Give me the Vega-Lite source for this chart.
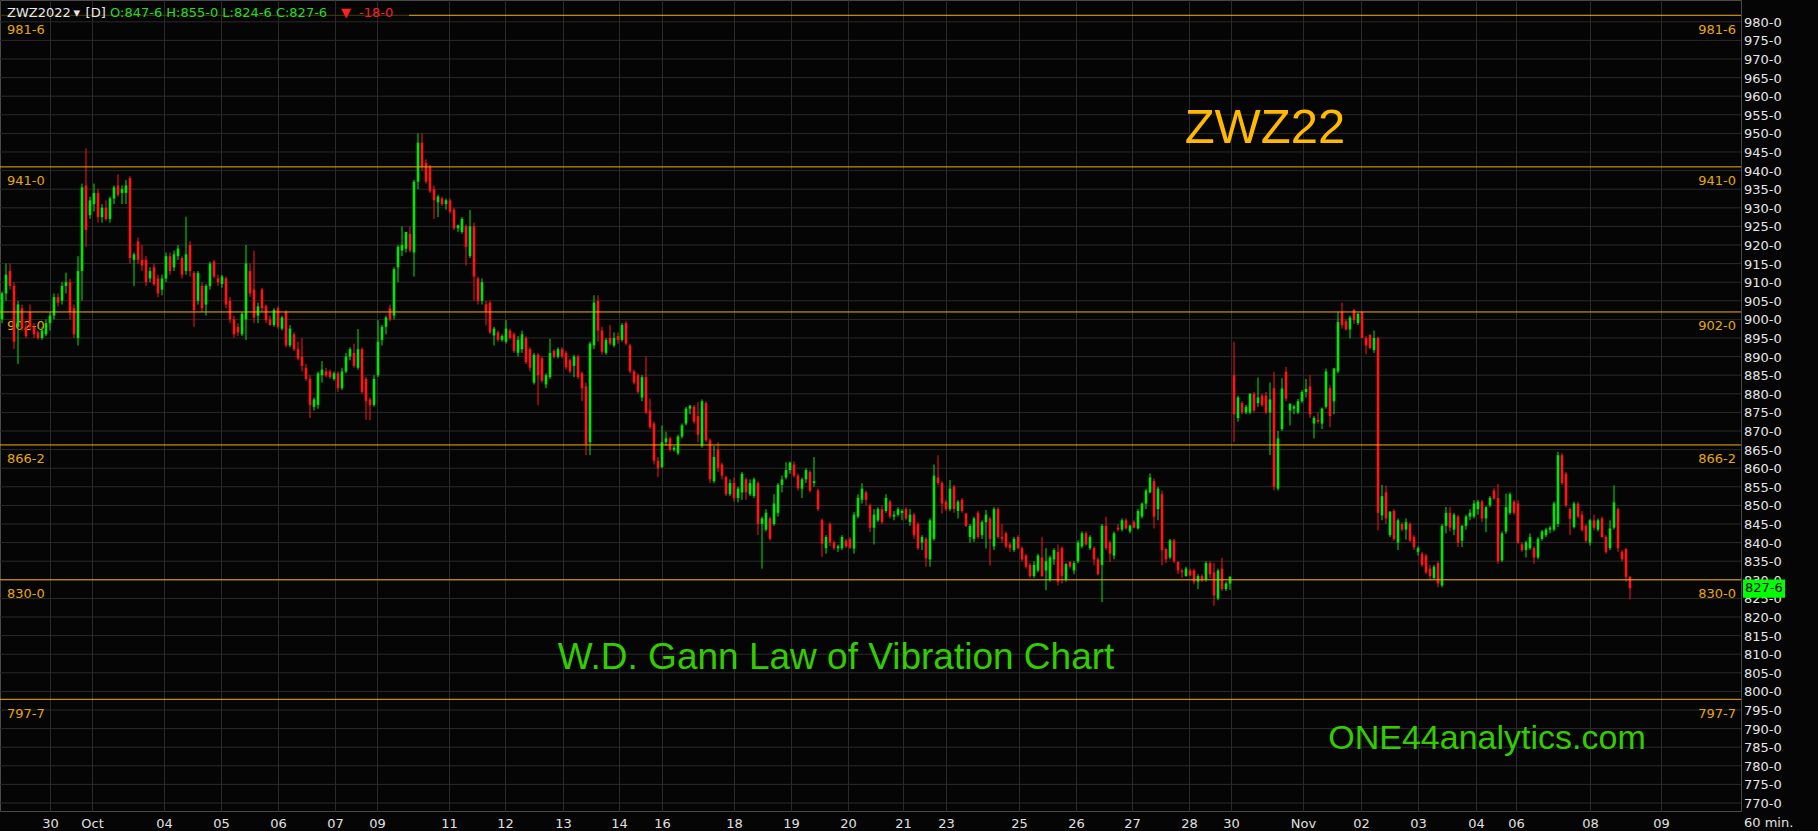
{
"$schema": "https://vega.github.io/schema/vega-lite/v6.json",
"width": 1741, "height": 811,
"autosize": {"type": "none"},
"padding": {"left": 0, "top": 0, "right": 77, "bottom": 20},
"background": "#050505",
"config": {"view": {"stroke": "#4a4a4a"}, "font": "DejaVu Sans"},
"datasets": {
"bars": [
{"i":0,"o":900,"h":907.5,"l":899,"c":907},{"i":1,"o":907,"h":915,"l":905,"c":912},{"i":2,"o":913,"h":915,"l":908,"c":909},{"i":3,"o":909,"h":910,"l":892,"c":894},{"i":4,"o":898,"h":905,"l":888,"c":904},{"i":5,"o":903,"h":904,"l":897,"c":898},{"i":6,"o":898,"h":899,"l":895,"c":895.5},{"i":7,"o":902,"h":904,"l":897,"c":898},{"i":8,"o":898,"h":899,"l":895,"c":896},{"i":9,"o":896.5,"h":897,"l":894.5,"c":895},
{"i":10,"o":895,"h":898,"l":894.5,"c":897},{"i":11,"o":896,"h":900,"l":895.5,"c":899},{"i":12,"o":899,"h":902,"l":897,"c":901},{"i":13,"o":901,"h":907,"l":900,"c":906},{"i":14,"o":906,"h":907,"l":903.5,"c":904.5},{"i":15,"o":905,"h":910,"l":904,"c":909},{"i":16,"o":909,"h":912.6,"l":907,"c":910},{"i":17,"o":910,"h":911,"l":900,"c":902},{"i":18,"o":903,"h":904,"l":895,"c":896},{"i":19,"o":895,"h":917,"l":893,"c":913},
{"i":20,"o":913,"h":936.5,"l":905,"c":935.5},{"i":21,"o":936,"h":946,"l":919.5,"c":924},{"i":22,"o":928,"h":933,"l":927,"c":932},{"i":23,"o":931,"h":936.5,"l":929,"c":934},{"i":24,"o":934,"h":935,"l":926,"c":927.5},{"i":25,"o":927.5,"h":931,"l":926,"c":930},{"i":26,"o":930,"h":932,"l":926.5,"c":927},{"i":27,"o":927,"h":933,"l":926,"c":932.5},{"i":28,"o":932.5,"h":936,"l":931,"c":935.5},{"i":29,"o":936,"h":939,"l":933,"c":933.5},
{"i":30,"o":934,"h":936,"l":931,"c":935},{"i":31,"o":934,"h":937.5,"l":931,"c":936},{"i":32,"o":938,"h":938.5,"l":915,"c":916.5},{"i":33,"o":916,"h":918,"l":909,"c":917.5},{"i":34,"o":921,"h":922,"l":915,"c":916},{"i":35,"o":916,"h":920,"l":913,"c":914.5},{"i":36,"o":916,"h":917,"l":909,"c":910},{"i":37,"o":911,"h":914,"l":910,"c":913},{"i":38,"o":914,"h":915,"l":909,"c":909.5},{"i":39,"o":911,"h":912,"l":906,"c":907},
{"i":40,"o":908,"h":912,"l":906.5,"c":911},{"i":41,"o":911,"h":918,"l":910,"c":917},{"i":42,"o":917,"h":918,"l":912,"c":913},{"i":43,"o":914,"h":918.5,"l":913,"c":917.5},{"i":44,"o":917,"h":920,"l":916,"c":919},{"i":45,"o":916.5,"h":917,"l":911,"c":912},{"i":46,"o":913,"h":927.6,"l":912,"c":917.5},{"i":47,"o":920,"h":921,"l":911.5,"c":913},{"i":48,"o":912.5,"h":913,"l":898,"c":902.5},{"i":49,"o":905,"h":913,"l":904,"c":912.5},
{"i":50,"o":909,"h":910,"l":902,"c":903},{"i":51,"o":904,"h":909.5,"l":901,"c":909},{"i":52,"o":909,"h":915.5,"l":908,"c":915},{"i":53,"o":915.5,"h":916,"l":911,"c":911.5},{"i":54,"o":911,"h":912,"l":909,"c":910},{"i":55,"o":909.5,"h":912,"l":908.5,"c":911.5},{"i":56,"o":911,"h":911.5,"l":903,"c":904},{"i":57,"o":905,"h":906,"l":899,"c":900},{"i":58,"o":900,"h":901,"l":895,"c":896},{"i":59,"o":898,"h":899,"l":895.5,"c":896.5},
{"i":60,"o":896,"h":902,"l":895.5,"c":901.5},{"i":61,"o":900,"h":920,"l":894.5,"c":915},{"i":62,"o":913,"h":915,"l":906,"c":907},{"i":63,"o":908,"h":918.5,"l":899,"c":900.5},{"i":64,"o":901,"h":904.5,"l":899,"c":903.5},{"i":65,"o":908,"h":908.5,"l":902,"c":903},{"i":66,"o":903.5,"h":904,"l":899,"c":899.8},{"i":67,"o":900,"h":901,"l":898.3,"c":898.5},{"i":68,"o":898.5,"h":903,"l":898,"c":902.5},{"i":69,"o":903,"h":903.5,"l":897.5,"c":898},
{"i":70,"o":897.5,"h":901,"l":897,"c":900.5},{"i":71,"o":902,"h":902.5,"l":892.5,"c":893},{"i":72,"o":893,"h":898.5,"l":892.5,"c":897.5},{"i":73,"o":896,"h":896.5,"l":891.5,"c":892},{"i":74,"o":892,"h":894,"l":889,"c":889.5},{"i":75,"o":890,"h":895,"l":886,"c":887.5},{"i":76,"o":887,"h":888,"l":883.5,"c":884},{"i":77,"o":884,"h":885,"l":873.5,"c":877},{"i":78,"o":876.5,"h":879,"l":875.5,"c":878.5},{"i":79,"o":877,"h":886,"l":876,"c":885.5},
{"i":80,"o":885,"h":888.8,"l":883,"c":886.5},{"i":81,"o":886,"h":887,"l":884.5,"c":885},{"i":82,"o":886,"h":886.5,"l":884,"c":884.5},{"i":83,"o":884,"h":886,"l":883.5,"c":885.5},{"i":84,"o":885.5,"h":886,"l":880.5,"c":881.5},{"i":85,"o":881.5,"h":887,"l":881,"c":886},{"i":86,"o":886,"h":891,"l":885.5,"c":890},{"i":87,"o":890,"h":892.5,"l":889,"c":892},{"i":88,"o":891,"h":893.5,"l":887,"c":887.5},{"i":89,"o":887,"h":897.4,"l":886.5,"c":892},
{"i":90,"o":892,"h":892.5,"l":880,"c":880.5},{"i":91,"o":884,"h":884.5,"l":873,"c":878},{"i":92,"o":878.5,"h":879,"l":872.9,"c":877},{"i":93,"o":877,"h":885,"l":876.5,"c":884},{"i":94,"o":885,"h":899.8,"l":884.5,"c":894},{"i":95,"o":894.5,"h":898.5,"l":893,"c":898},{"i":96,"o":898,"h":901,"l":896,"c":900.5},{"i":97,"o":903,"h":904,"l":899.5,"c":900},{"i":98,"o":901,"h":914,"l":900,"c":913.5},{"i":99,"o":914,"h":920,"l":910,"c":919.5},
{"i":100,"o":918.5,"h":925,"l":917,"c":920},{"i":101,"o":919,"h":923.5,"l":918,"c":923.5},{"i":102,"o":923,"h":925,"l":918,"c":918.5},{"i":103,"o":918,"h":937.5,"l":911.5,"c":937},{"i":104,"o":937,"h":950,"l":935,"c":947.5},{"i":105,"o":947.5,"h":950,"l":940,"c":941},{"i":106,"o":942,"h":943,"l":936.5,"c":937},{"i":107,"o":941,"h":941.5,"l":934,"c":934.5},{"i":108,"o":935,"h":936,"l":927,"c":932},{"i":109,"o":931.5,"h":933.5,"l":927.5,"c":933},
{"i":110,"o":932.5,"h":933,"l":930.5,"c":931},{"i":111,"o":931,"h":932.5,"l":929.5,"c":932},{"i":112,"o":932,"h":932.5,"l":928.5,"c":929},{"i":113,"o":929.5,"h":930,"l":924,"c":924.5},{"i":114,"o":924.5,"h":925.5,"l":923.5,"c":925.3},{"i":115,"o":923.5,"h":927.5,"l":923,"c":927},{"i":116,"o":925,"h":925.5,"l":914.5,"c":919.5},{"i":117,"o":917,"h":929.4,"l":916.5,"c":925},{"i":118,"o":925,"h":926,"l":905,"c":911.5},{"i":119,"o":911,"h":911.5,"l":904,"c":905},
{"i":120,"o":905,"h":911,"l":904,"c":910},{"i":121,"o":904,"h":905,"l":898.4,"c":902},{"i":122,"o":904.5,"h":905,"l":896,"c":896.5},{"i":123,"o":895.7,"h":898,"l":893,"c":897.5},{"i":124,"o":896.5,"h":897,"l":894,"c":894.5},{"i":125,"o":894.5,"h":896,"l":894,"c":895.5},{"i":126,"o":894,"h":899.8,"l":893.5,"c":897.5},{"i":127,"o":897,"h":897.5,"l":894.5,"c":895},{"i":128,"o":896,"h":896.5,"l":891,"c":891.5},{"i":129,"o":891,"h":895.5,"l":890,"c":894.5},
{"i":130,"o":892,"h":897,"l":891,"c":896},{"i":131,"o":895,"h":895.5,"l":888,"c":888.5},{"i":132,"o":892,"h":892.5,"l":886,"c":887},{"i":133,"o":883,"h":891,"l":882.5,"c":890.5},{"i":134,"o":890.5,"h":891,"l":876.9,"c":885},{"i":135,"o":889.5,"h":890,"l":883,"c":883.5},{"i":136,"o":882.5,"h":885.5,"l":881.5,"c":885},{"i":137,"o":884.5,"h":894.8,"l":884,"c":891},{"i":138,"o":891.5,"h":892,"l":889.5,"c":890},{"i":139,"o":890,"h":892.5,"l":889.5,"c":892},
{"i":140,"o":892,"h":892.5,"l":889.5,"c":890},{"i":141,"o":891,"h":891.5,"l":886.5,"c":887.2},{"i":142,"o":889,"h":889.5,"l":885.5,"c":886},{"i":143,"o":887.5,"h":890.5,"l":884.5,"c":890},{"i":144,"o":890,"h":890.5,"l":884,"c":884.5},{"i":145,"o":885.5,"h":886,"l":878,"c":881.5},{"i":146,"o":882,"h":883,"l":863.5,"c":866.5},{"i":147,"o":867,"h":894,"l":863.5,"c":893.5},{"i":148,"o":893,"h":906.5,"l":892,"c":904.5},{"i":149,"o":905,"h":906.5,"l":894,"c":897},
{"i":150,"o":897,"h":898,"l":890.5,"c":891.3},{"i":151,"o":891,"h":895,"l":890.5,"c":894.5},{"i":152,"o":895,"h":898.5,"l":893,"c":893.5},{"i":153,"o":893,"h":896.5,"l":892.5,"c":895},{"i":154,"o":895.5,"h":896.5,"l":893.5,"c":894.5},{"i":155,"o":894.5,"h":899,"l":894,"c":898.5},{"i":156,"o":899,"h":899.5,"l":893,"c":893.5},{"i":157,"o":893,"h":893.5,"l":885.5,"c":886},{"i":158,"o":886,"h":886.5,"l":882.5,"c":883},{"i":159,"o":885,"h":885.5,"l":880,"c":880.5},
{"i":160,"o":879,"h":885,"l":878,"c":884.5},{"i":161,"o":884.5,"h":890,"l":874.5,"c":875},{"i":162,"o":875.5,"h":878.7,"l":870.5,"c":871},{"i":163,"o":872,"h":872.5,"l":861,"c":862},{"i":164,"o":862,"h":863,"l":857.6,"c":860},{"i":165,"o":860.3,"h":871.5,"l":860,"c":867},{"i":166,"o":867,"h":869.8,"l":866,"c":868},{"i":167,"o":868,"h":868.5,"l":864.5,"c":865},{"i":168,"o":865,"h":866,"l":864.5,"c":865.5},{"i":169,"o":864,"h":869,"l":863.5,"c":868.5},
{"i":170,"o":868.5,"h":872,"l":868,"c":871.5},{"i":171,"o":872,"h":876.5,"l":871.5,"c":876},{"i":172,"o":876,"h":877,"l":874.5,"c":876.8},{"i":173,"o":876.5,"h":877,"l":872,"c":872.5},{"i":174,"o":874,"h":877.8,"l":867,"c":869},{"i":175,"o":866,"h":878.5,"l":865.5,"c":878},{"i":176,"o":877.5,"h":878,"l":867,"c":867.5},{"i":177,"o":867.5,"h":868,"l":856,"c":857},{"i":178,"o":856.5,"h":866,"l":856,"c":863},{"i":179,"o":865,"h":867,"l":859,"c":860},
{"i":180,"o":861,"h":861.5,"l":857,"c":858},{"i":181,"o":857.6,"h":858,"l":852.5,"c":853},{"i":182,"o":853,"h":857,"l":852.5,"c":856},{"i":183,"o":856,"h":857.5,"l":851,"c":852},{"i":184,"o":852,"h":855,"l":850.8,"c":854.5},{"i":185,"o":853.5,"h":859,"l":851.5,"c":858.5},{"i":186,"o":857,"h":857.5,"l":851.5,"c":853.5},{"i":187,"o":853,"h":857,"l":852.5,"c":856},{"i":188,"o":852.5,"h":857.5,"l":852,"c":857},{"i":189,"o":856,"h":856.5,"l":842,"c":845},
{"i":190,"o":845,"h":847,"l":833,"c":846.5},{"i":191,"o":843.5,"h":849,"l":843,"c":848},{"i":192,"o":846.5,"h":847,"l":840.5,"c":841},{"i":193,"o":845,"h":853,"l":844.5,"c":850.5},{"i":194,"o":848,"h":856,"l":847,"c":855.5},{"i":195,"o":855.5,"h":858,"l":853.5,"c":857},{"i":196,"o":857.5,"h":861.6,"l":857,"c":859.5},{"i":197,"o":859.5,"h":861.8,"l":858.5,"c":861.5},{"i":198,"o":861,"h":861.8,"l":857.5,"c":858},{"i":199,"o":858,"h":858.5,"l":854,"c":854.6},
{"i":200,"o":854.5,"h":857.5,"l":852,"c":857},{"i":201,"o":857,"h":860,"l":856,"c":859.5},{"i":202,"o":859,"h":859.5,"l":853.5,"c":854},{"i":203,"o":856,"h":863,"l":855,"c":856.5},{"i":204,"o":854,"h":854.5,"l":848.5,"c":849},{"i":205,"o":846,"h":846.5,"l":836.2,"c":839.7},{"i":206,"o":838.5,"h":842,"l":837,"c":841.5},{"i":207,"o":845,"h":845.5,"l":839,"c":840},{"i":208,"o":840,"h":840.5,"l":838,"c":838.5},{"i":209,"o":838.5,"h":839.5,"l":837.5,"c":839},
{"i":210,"o":838.5,"h":842,"l":838,"c":841.5},{"i":211,"o":840.5,"h":841,"l":838.5,"c":839},{"i":212,"o":841,"h":841.5,"l":838.3,"c":838.6},{"i":213,"o":838.4,"h":848.2,"l":837,"c":847.5},{"i":214,"o":847,"h":853,"l":846.5,"c":852},{"i":215,"o":851.5,"h":856,"l":850.5,"c":854.5},{"i":216,"o":853.5,"h":854,"l":850,"c":851.5},{"i":217,"o":850,"h":850.5,"l":842.8,"c":844},{"i":218,"o":844,"h":849,"l":839.5,"c":847.5},{"i":219,"o":846,"h":849.5,"l":845.5,"c":849},
{"i":220,"o":849,"h":850,"l":845,"c":845.5},{"i":221,"o":848.5,"h":853,"l":848,"c":852},{"i":222,"o":851,"h":851.5,"l":846.5,"c":847},{"i":223,"o":847,"h":848.5,"l":846,"c":847.5},{"i":224,"o":847.5,"h":849.5,"l":847,"c":849},{"i":225,"o":848,"h":849,"l":846,"c":848.5},{"i":226,"o":849,"h":849.5,"l":846,"c":846.5},{"i":227,"o":845.5,"h":849,"l":844.5,"c":847.5},{"i":228,"o":847.5,"h":848,"l":841,"c":842},{"i":229,"o":845,"h":845.5,"l":838,"c":838.5},
{"i":230,"o":840,"h":842,"l":838,"c":841.5},{"i":231,"o":841,"h":841.5,"l":833.5,"c":835.8},{"i":232,"o":835.5,"h":846.5,"l":833.5,"c":846},{"i":233,"o":841,"h":861,"l":840.5,"c":858},{"i":234,"o":857.5,"h":863.5,"l":855.5,"c":856},{"i":235,"o":856,"h":856.5,"l":847.8,"c":850.5},{"i":236,"o":851,"h":851.5,"l":848.5,"c":849},{"i":237,"o":849,"h":856.8,"l":848.5,"c":854.5},{"i":238,"o":855,"h":855.5,"l":848,"c":849},{"i":239,"o":848.5,"h":851.5,"l":846.5,"c":851},
{"i":240,"o":851.5,"h":852,"l":848,"c":848.5},{"i":241,"o":847.8,"h":848,"l":844.2,"c":844.5},{"i":242,"o":841.5,"h":845,"l":840,"c":844.5},{"i":243,"o":841,"h":847,"l":840.2,"c":846.5},{"i":244,"o":848,"h":848.5,"l":841,"c":841.5},{"i":245,"o":842,"h":846,"l":841,"c":845.5},{"i":246,"o":845.5,"h":848.8,"l":838.4,"c":847.5},{"i":247,"o":846.5,"h":847,"l":833.8,"c":841},{"i":248,"o":839,"h":849.5,"l":838,"c":849},{"i":249,"o":849,"h":849.5,"l":841,"c":841.5},
{"i":250,"o":841.5,"h":845,"l":840,"c":841},{"i":251,"o":842.5,"h":843,"l":838.5,"c":839},{"i":252,"o":839.5,"h":840,"l":837.5,"c":838.5},{"i":253,"o":838,"h":841.5,"l":837.5,"c":841},{"i":254,"o":841.5,"h":842,"l":838.2,"c":838.5},{"i":255,"o":838.5,"h":839,"l":835,"c":835.5},{"i":256,"o":836.5,"h":837,"l":833,"c":833.5},{"i":257,"o":834,"h":834.5,"l":830.5,"c":831},{"i":258,"o":831,"h":835,"l":830.5,"c":834},{"i":259,"o":832.5,"h":837,"l":832,"c":836.5},
{"i":260,"o":836,"h":841.5,"l":830.8,"c":831},{"i":261,"o":832.5,"h":838.5,"l":827.2,"c":835},{"i":262,"o":830,"h":836.5,"l":829.5,"c":836},{"i":263,"o":835.5,"h":838.5,"l":834,"c":838},{"i":264,"o":837.5,"h":839.5,"l":828.5,"c":829.5},{"i":265,"o":838.5,"h":839,"l":829,"c":831},{"i":266,"o":830,"h":834.5,"l":829.5,"c":834.2},{"i":267,"o":834.8,"h":835,"l":833,"c":833.5},{"i":268,"o":832.5,"h":835,"l":831.5,"c":834.5},{"i":269,"o":835,"h":840.6,"l":834.5,"c":840},
{"i":270,"o":839,"h":843,"l":838.5,"c":842.5},{"i":271,"o":842.5,"h":843,"l":839.2,"c":839.5},{"i":272,"o":838.5,"h":842,"l":838,"c":841.5},{"i":273,"o":838.5,"h":839,"l":833.9,"c":835.5},{"i":274,"o":835.5,"h":836,"l":831.2,"c":831.5},{"i":275,"o":834,"h":845,"l":824,"c":844.5},{"i":276,"o":844.5,"h":847,"l":838,"c":838.5},{"i":277,"o":840,"h":840.5,"l":834.8,"c":837},{"i":278,"o":836.5,"h":843,"l":835.5,"c":842.5},{"i":279,"o":844,"h":845,"l":843,"c":843.5},
{"i":280,"o":843.5,"h":846.5,"l":843,"c":846},{"i":281,"o":846,"h":846.5,"l":843.5,"c":843.8},{"i":282,"o":843,"h":844.8,"l":842.5,"c":844.6},{"i":283,"o":845.5,"h":846,"l":843.8,"c":844},{"i":284,"o":843.8,"h":849,"l":843.5,"c":848.5},{"i":285,"o":847,"h":850.8,"l":846.5,"c":850.5},{"i":286,"o":850.5,"h":854.5,"l":849,"c":854},{"i":287,"o":853.5,"h":858.6,"l":853.2,"c":857.5},{"i":288,"o":856.5,"h":857.2,"l":843.8,"c":847},{"i":289,"o":849,"h":855,"l":846,"c":854.5},
{"i":290,"o":853,"h":854,"l":833.9,"c":838},{"i":291,"o":838.3,"h":838.5,"l":834.5,"c":835.5},{"i":292,"o":836,"h":841,"l":835.5,"c":840.6},{"i":293,"o":840.6,"h":841,"l":834.5,"c":835},{"i":294,"o":834.8,"h":835,"l":831.5,"c":832.5},{"i":295,"o":832.5,"h":833,"l":830.5,"c":832},{"i":296,"o":831,"h":833.5,"l":830.8,"c":833},{"i":297,"o":832.5,"h":833,"l":831,"c":831.2},{"i":298,"o":832.5,"h":833,"l":828.8,"c":829.5},{"i":299,"o":829.5,"h":831.5,"l":827.5,"c":831},
{"i":300,"o":831,"h":831.5,"l":829.5,"c":829.8},{"i":301,"o":830,"h":835,"l":829.5,"c":834.5},{"i":302,"o":834.5,"h":835,"l":830.5,"c":831.5},{"i":303,"o":832,"h":834.5,"l":823,"c":825.8},{"i":304,"o":825,"h":833,"l":824.5,"c":832.5},{"i":305,"o":833,"h":835.9,"l":827,"c":827.5},{"i":306,"o":827.5,"h":829.5,"l":827,"c":829},{"i":307,"o":829,"h":831,"l":827.3,"c":830.8},{"i":308,"o":885,"h":894,"l":867,"c":874.5},{"i":309,"o":873.5,"h":879.5,"l":872.5,"c":879},
{"i":310,"o":877.5,"h":878,"l":874.5,"c":875},{"i":311,"o":875,"h":877,"l":874.5,"c":876.5},{"i":312,"o":875,"h":880.2,"l":874.5,"c":880},{"i":313,"o":880,"h":880.5,"l":875,"c":875.5},{"i":314,"o":877.5,"h":884.4,"l":876.5,"c":879},{"i":315,"o":879.5,"h":880,"l":876.5,"c":877},{"i":316,"o":879.5,"h":880.5,"l":874.5,"c":875},{"i":317,"o":875,"h":883,"l":863.5,"c":878.5},{"i":318,"o":881.5,"h":885.9,"l":854,"c":855},{"i":319,"o":854.5,"h":870,"l":854,"c":868},
{"i":320,"o":870.5,"h":884.2,"l":870,"c":881.4},{"i":321,"o":885.9,"h":887.2,"l":878,"c":878.7},{"i":322,"o":875.5,"h":877.5,"l":871.5,"c":877.3},{"i":323,"o":876,"h":877,"l":874.5,"c":876.6},{"i":324,"o":875,"h":878.6,"l":874.5,"c":878},{"i":325,"o":878,"h":881,"l":877.5,"c":880.5},{"i":326,"o":880.5,"h":884,"l":879,"c":881.3},{"i":327,"o":882,"h":885,"l":873.5,"c":874.5},{"i":328,"o":872,"h":874,"l":868,"c":873.5},{"i":329,"o":873,"h":875,"l":872,"c":872.5},
{"i":330,"o":872,"h":876.3,"l":870.5,"c":876},{"i":331,"o":876.5,"h":886.8,"l":876,"c":886},{"i":332,"o":881.5,"h":882.3,"l":871,"c":874},{"i":333,"o":878,"h":887,"l":874.5,"c":886.8},{"i":334,"o":886,"h":902,"l":885.5,"c":899.3},{"i":335,"o":902,"h":904.5,"l":897.5,"c":898.5},{"i":336,"o":899.5,"h":900,"l":897,"c":897.3},{"i":337,"o":897.3,"h":901,"l":894.9,"c":900.5},{"i":338,"o":902.5,"h":902.8,"l":898.8,"c":899.8},{"i":339,"o":899,"h":901.8,"l":898.5,"c":901.5},
{"i":340,"o":902,"h":902.2,"l":894.9,"c":895},{"i":341,"o":895,"h":895.5,"l":890.6,"c":893},{"i":342,"o":895.8,"h":896,"l":892,"c":892.3},{"i":343,"o":891.8,"h":897,"l":891,"c":895},{"i":344,"o":895,"h":895.3,"l":843.3,"c":848},{"i":345,"o":847.3,"h":855.5,"l":846,"c":852.5},{"i":346,"o":853.5,"h":855.3,"l":845,"c":846.5},{"i":347,"o":842,"h":848.5,"l":841.5,"c":848.3},{"i":348,"o":848.5,"h":849,"l":840.5,"c":841},{"i":349,"o":840,"h":846.5,"l":838,"c":846},
{"i":350,"o":845,"h":845.5,"l":843,"c":843.5},{"i":351,"o":843.5,"h":846.5,"l":840.8,"c":845.5},{"i":352,"o":845,"h":845.5,"l":840.2,"c":840.5},{"i":353,"o":841.5,"h":842,"l":838,"c":838.8},{"i":354,"o":837.5,"h":839,"l":836.5,"c":838.5},{"i":355,"o":837,"h":837.5,"l":833.5,"c":834},{"i":356,"o":836.5,"h":837,"l":831.5,"c":832},{"i":357,"o":833,"h":834,"l":829.8,"c":831},{"i":358,"o":830.5,"h":834,"l":830,"c":833.5},{"i":359,"o":834.5,"h":835,"l":828,"c":829},
{"i":360,"o":828.5,"h":845,"l":828,"c":844.5},{"i":361,"o":844.5,"h":849.6,"l":842.5,"c":848},{"i":362,"o":848,"h":849.6,"l":843,"c":844},{"i":363,"o":843.5,"h":848,"l":842,"c":847.5},{"i":364,"o":847,"h":847.5,"l":838.8,"c":840},{"i":365,"o":840.5,"h":844.7,"l":838.8,"c":844.5},{"i":366,"o":844.5,"h":847.5,"l":843.5,"c":847},{"i":367,"o":847,"h":849,"l":846,"c":848},{"i":368,"o":847,"h":851.4,"l":846.5,"c":850.5},{"i":369,"o":849,"h":851.5,"l":847.5,"c":851},
{"i":370,"o":851,"h":851.5,"l":845.5,"c":846.5},{"i":371,"o":846.5,"h":849.8,"l":842.8,"c":849.5},{"i":372,"o":850,"h":852.5,"l":849.5,"c":852},{"i":373,"o":854,"h":854.6,"l":851.5,"c":851.8},{"i":374,"o":852,"h":855.8,"l":834.3,"c":835},{"i":375,"o":835.2,"h":843,"l":834.8,"c":842.5},{"i":376,"o":843,"h":853.2,"l":842.4,"c":849.5},{"i":377,"o":848,"h":853.5,"l":847.5,"c":853},{"i":378,"o":851,"h":851.5,"l":847.5,"c":848},{"i":379,"o":850.5,"h":851.4,"l":839.7,"c":840},
{"i":380,"o":839.5,"h":840,"l":837.5,"c":838},{"i":381,"o":838,"h":840.5,"l":836,"c":840},{"i":382,"o":838.5,"h":842.5,"l":838,"c":841.5},{"i":383,"o":838.5,"h":839,"l":834.3,"c":836},{"i":384,"o":836,"h":841.5,"l":835.5,"c":841},{"i":385,"o":841,"h":843.4,"l":840.5,"c":843},{"i":386,"o":842,"h":844,"l":841.5,"c":843.5},{"i":387,"o":843.5,"h":844.5,"l":842.5,"c":844},{"i":388,"o":843.5,"h":851,"l":843,"c":850.5},{"i":389,"o":845,"h":864.4,"l":844.2,"c":863.5},
{"i":390,"o":863.5,"h":864,"l":855.5,"c":856},{"i":391,"o":858.5,"h":859,"l":849.5,"c":850},{"i":392,"o":849,"h":849.5,"l":842,"c":846.4},{"i":393,"o":844.2,"h":851,"l":843.8,"c":850.5},{"i":394,"o":850.5,"h":851,"l":846.5,"c":847},{"i":395,"o":847.5,"h":848.5,"l":843,"c":843.3},{"i":396,"o":844.5,"h":845,"l":840,"c":840.5},{"i":397,"o":840,"h":846.4,"l":839.2,"c":846},{"i":398,"o":846,"h":847.5,"l":843.3,"c":844},{"i":399,"o":843.5,"h":846.5,"l":843,"c":846},
{"i":400,"o":846.5,"h":847,"l":841.3,"c":841.5},{"i":401,"o":841.5,"h":842,"l":837,"c":837.5},{"i":402,"o":838.5,"h":846,"l":838,"c":843.8},{"i":403,"o":844,"h":855.4,"l":843.5,"c":850.8},{"i":404,"o":849,"h":849.5,"l":837.5,"c":838.5},{"i":405,"o":837.5,"h":838,"l":835,"c":835.5},{"i":406,"o":838.3,"h":838.5,"l":829.5,"c":830.8},{"i":407,"o":830.8,"h":831,"l":824.75,"c":827.75}
],
"yticks": [
{"p":770,"lab":"770-0"},{"p":775,"lab":"775-0"},{"p":780,"lab":"780-0"},{"p":785,"lab":"785-0"},{"p":790,"lab":"790-0"},{"p":795,"lab":"795-0"},{"p":800,"lab":"800-0"},{"p":805,"lab":"805-0"},{"p":810,"lab":"810-0"},{"p":815,"lab":"815-0"},{"p":820,"lab":"820-0"},{"p":825,"lab":"825-0"},{"p":830,"lab":"830-0"},{"p":835,"lab":"835-0"},{"p":840,"lab":"840-0"},{"p":845,"lab":"845-0"},{"p":850,"lab":"850-0"},{"p":855,"lab":"855-0"},{"p":860,"lab":"860-0"},{"p":865,"lab":"865-0"},{"p":870,"lab":"870-0"},{"p":875,"lab":"875-0"},
{"p":880,"lab":"880-0"},{"p":885,"lab":"885-0"},{"p":890,"lab":"890-0"},{"p":895,"lab":"895-0"},{"p":900,"lab":"900-0"},{"p":905,"lab":"905-0"},{"p":910,"lab":"910-0"},{"p":915,"lab":"915-0"},{"p":920,"lab":"920-0"},{"p":925,"lab":"925-0"},{"p":930,"lab":"930-0"},{"p":935,"lab":"935-0"},{"p":940,"lab":"940-0"},{"p":945,"lab":"945-0"},{"p":950,"lab":"950-0"},{"p":955,"lab":"955-0"},{"p":960,"lab":"960-0"},{"p":965,"lab":"965-0"},{"p":970,"lab":"970-0"},{"p":975,"lab":"975-0"},{"p":980,"lab":"980-0"}
],
"levels": [
{"v":981.75,"lab":"981-6","from":101.75},
{"v":941,"lab":"941-0","from":-0.5},
{"v":902,"lab":"902-0","from":-0.5},
{"v":866.25,"lab":"866-2","from":-0.5},
{"v":830,"lab":"830-0","from":-0.5},
{"v":797.875,"lab":"797-7","from":-0.5}
],
"header": [
{"t":"ZWZ2022","i":1.25,"k":"w"},
{"t":"▾","i":17.9,"k":"w"},
{"t":"[D]","i":20.9,"k":"w"},
{"t":"O:847-6 H:855-0 L:824-6 C:827-6","i":27,"k":"g"},
{"t":"▼","i":84.75,"k":"r"},
{"t":"-18-0","i":89.25,"k":"r"}
]
},
"layer": [
{
"data": {"name": "yticks"},
"mark": {"type": "rule", "strokeWidth": 1, "color": "#2a2a2a"},
"encoding": {
"x": {"datum": -0.5, "type": "quantitative", "scale": {"domain": [-0.5, 434.75], "nice": false, "zero": false},
"axis": {"title": null, "values": [12, 22.5, 40.5, 54.75, 69, 83.25, 93.75, 111.75, 125.75, 140.25, 154.25, 165, 183, 197.25, 211.5, 225.25, 236, 254.25, 268.5, 282.5, 296.75, 307.25, 325.25, 339.75, 354, 368.5, 378.5, 397, 414.75],
"labelExpr": "['30','Oct','04','05','06','07','09','11','12','13','14','16','18','19','20','21','23','25','26','27','28','30','Nov','02','03','04','06','08','09'][indexof([12, 22.5, 40.5, 54.75, 69, 83.25, 93.75, 111.75, 125.75, 140.25, 154.25, 165, 183, 197.25, 211.5, 225.25, 236, 254.25, 268.5, 282.5, 296.75, 307.25, 325.25, 339.75, 354, 368.5, 378.5, 397, 414.75], datum.value)]",
"grid": true, "gridColor": "#2a2a2a", "gridWidth": 1, "ticks": false, "tickSize": 0, "domain": false, "labelColor": "#e0e0e0", "labelFont": "DejaVu Sans", "labelFontSize": 13, "labelPadding": 16, "labelBaseline": "alphabetic", "labelFlush": false, "labelOverlap": false}},
"x2": {"datum": 434.75},
"y": {"field": "p", "type": "quantitative", "scale": {"domain": [767.85, 985.86], "nice": false, "zero": false}, "axis": null}
}
},
{
"data": {"name": "yticks"},
"mark": {"type": "text", "align": "left", "baseline": "middle", "dy": 1, "font": "DejaVu Sans", "fontSize": 13, "color": "#e6e6e6"},
"encoding": {
"x": {"datum": 435.5, "type": "quantitative", "scale": {"domain": [-0.5, 434.75], "nice": false, "zero": false}},
"y": {"field": "p", "type": "quantitative", "scale": {"domain": [767.85, 985.86], "nice": false, "zero": false}, "axis": null},
"text": {"field": "lab"}
}
},
{
"data": {"name": "levels"},
"mark": {"type": "text", "align": "left", "baseline": "alphabetic", "dy": 18.5, "font": "DejaVu Sans", "fontSize": 13, "color": "#e8a800"},
"encoding": {
"x": {"datum": 1.25, "type": "quantitative", "scale": {"domain": [-0.5, 434.75], "nice": false, "zero": false}},
"y": {"field": "v", "type": "quantitative", "scale": {"domain": [767.85, 985.86], "nice": false, "zero": false}, "axis": null},
"text": {"field": "lab"}
}
},
{
"data": {"name": "levels"},
"mark": {"type": "text", "align": "right", "baseline": "alphabetic", "dy": 18.5, "font": "DejaVu Sans", "fontSize": 13, "color": "#e8a800"},
"encoding": {
"x": {"datum": 433.5, "type": "quantitative", "scale": {"domain": [-0.5, 434.75], "nice": false, "zero": false}},
"y": {"field": "v", "type": "quantitative", "scale": {"domain": [767.85, 985.86], "nice": false, "zero": false}, "axis": null},
"text": {"field": "lab"}
}
},
{
"data": {"name": "bars"},
"mark": {"type": "rule", "strokeWidth": 1},
"encoding": {
"x": {"field": "i", "type": "quantitative", "scale": {"domain": [-0.5, 434.75], "nice": false, "zero": false}},
"y": {"field": "l", "type": "quantitative", "scale": {"domain": [767.85, 985.86], "nice": false, "zero": false}, "axis": null},
"y2": {"field": "h"},
"color": {"condition": {"test": "datum.c >= datum.o", "value": "#00e600"}, "value": "#ff1414"}
}
},
{
"data": {"name": "bars"},
"mark": {"type": "rule", "strokeWidth": 2.6},
"encoding": {
"x": {"field": "i", "type": "quantitative", "scale": {"domain": [-0.5, 434.75], "nice": false, "zero": false}},
"y": {"field": "o", "type": "quantitative", "scale": {"domain": [767.85, 985.86], "nice": false, "zero": false}, "axis": null},
"y2": {"field": "c"},
"color": {"condition": {"test": "datum.c >= datum.o", "value": "#00e600"}, "value": "#ff1414"}
}
},
{
"data": {"name": "levels"},
"mark": {"type": "rule", "strokeWidth": 1, "color": "#f5b000"},
"encoding": {
"x": {"field": "from", "type": "quantitative", "scale": {"domain": [-0.5, 434.75], "nice": false, "zero": false}},
"x2": {"datum": 434.75},
"y": {"field": "v", "type": "quantitative", "scale": {"domain": [767.85, 985.86], "nice": false, "zero": false}, "axis": null}
}
},
{
"data": {"values": [{"v": 981.75}]},
"mark": {"type": "rule", "strokeWidth": 1, "color": "#4a3c0a"},
"encoding": {
"x": {"datum": -0.5, "type": "quantitative", "scale": {"domain": [-0.5, 434.75], "nice": false, "zero": false}},
"x2": {"datum": 101.75},
"y": {"field": "v", "type": "quantitative", "scale": {"domain": [767.85, 985.86], "nice": false, "zero": false}, "axis": null}
}
},
{
"data": {"name": "header"},
"mark": {"type": "text", "align": "left", "baseline": "alphabetic", "font": "DejaVu Sans", "fontSize": 13},
"encoding": {
"x": {"field": "i", "type": "quantitative", "scale": {"domain": [-0.5, 434.75], "nice": false, "zero": false}},
"y": {"datum": 981.2, "type": "quantitative", "scale": {"domain": [767.85, 985.86], "nice": false, "zero": false}, "axis": null},
"text": {"field": "t"},
"color": {"field": "k", "type": "nominal", "scale": {"domain": ["w", "g", "r"], "range": ["#e8e8e8", "#22dd22", "#ff2020"]}, "legend": null}
}
},
{
"data": {"values": [{"t": "ZWZ22", "i": 315.75, "v": 947.4}]},
"mark": {"type": "text", "align": "center", "baseline": "alphabetic", "font": "Liberation Sans", "fontSize": 49, "color": "#ffb900"},
"encoding": {
"x": {"field": "i", "type": "quantitative", "scale": {"domain": [-0.5, 434.75], "nice": false, "zero": false}},
"y": {"field": "v", "type": "quantitative", "scale": {"domain": [767.85, 985.86], "nice": false, "zero": false}, "axis": null},
"text": {"field": "t"}
}
},
{
"data": {"values": [{"t": "W.D. Gann Law of Vibration Chart", "i": 208.5, "v": 806.0}]},
"mark": {"type": "text", "align": "center", "baseline": "alphabetic", "font": "Liberation Sans", "fontSize": 37, "color": "#33cc00"},
"encoding": {
"x": {"field": "i", "type": "quantitative", "scale": {"domain": [-0.5, 434.75], "nice": false, "zero": false}},
"y": {"field": "v", "type": "quantitative", "scale": {"domain": [767.85, 985.86], "nice": false, "zero": false}, "axis": null},
"text": {"field": "t"}
}
},
{
"data": {"values": [{"t": "ONE44analytics.com", "i": 371.25, "v": 784.5}]},
"mark": {"type": "text", "align": "center", "baseline": "alphabetic", "font": "Liberation Sans", "fontSize": 34, "color": "#33cc00"},
"encoding": {
"x": {"field": "i", "type": "quantitative", "scale": {"domain": [-0.5, 434.75], "nice": false, "zero": false}},
"y": {"field": "v", "type": "quantitative", "scale": {"domain": [767.85, 985.86], "nice": false, "zero": false}, "axis": null},
"text": {"field": "t"}
}
},
{
"data": {"values": [{"v": 827.75}]},
"mark": {"type": "rect", "color": "#00ff00"},
"encoding": {
"x": {"datum": 435.25, "type": "quantitative", "scale": {"domain": [-0.5, 434.75], "nice": false, "zero": false}},
"x2": {"datum": 445.75},
"y": {"datum": 830.1, "type": "quantitative", "scale": {"domain": [767.85, 985.86], "nice": false, "zero": false}, "axis": null},
"y2": {"datum": 825.2}
}
},
{
"data": {"values": [{"t": "827-6", "v": 827.75}]},
"mark": {"type": "text", "align": "left", "baseline": "middle", "font": "DejaVu Sans", "fontSize": 13, "color": "#000000"},
"encoding": {
"x": {"datum": 435.75, "type": "quantitative", "scale": {"domain": [-0.5, 434.75], "nice": false, "zero": false}},
"y": {"field": "v", "type": "quantitative", "scale": {"domain": [767.85, 985.86], "nice": false, "zero": false}, "axis": null},
"text": {"field": "t"}
}
},
{
"data": {"values": [{"t": "60 min.", "v": 763.55}]},
"mark": {"type": "text", "align": "left", "baseline": "alphabetic", "font": "DejaVu Sans", "fontSize": 13, "color": "#e0e0e0"},
"encoding": {
"x": {"datum": 435.5, "type": "quantitative", "scale": {"domain": [-0.5, 434.75], "nice": false, "zero": false}},
"y": {"field": "v", "type": "quantitative", "scale": {"domain": [767.85, 985.86], "nice": false, "zero": false}, "axis": null},
"text": {"field": "t"}
}
}
]
}
